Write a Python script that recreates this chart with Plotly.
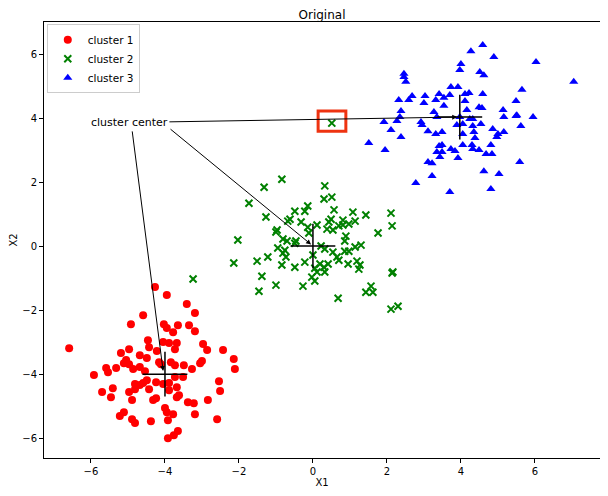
import plotly.graph_objects as go

red_x = [-4.27,-3.95,-3.41,-3.19,-4.59,-4.92,-4.03,-3.95,-3.65,-3.35,-3.78,-3.19,-6.59,-4.46,-4.43,-4.05,-3.89,-3.68,-3.73,-2.97,-2.86,-2.43,-2.14,-2.11,-5.19,-4.97,-4.68,-4.49,-4.22,-5.05,-5.11,-4.97,-4.16,-4.11,-3.84,-3.73,-3.49,-3.05,-3.0,-3.27,-5.59,-5.54,-5.32,-4.86,-4.68,-4.54,-5.92,-3.51,-3.73,-4.49,-4.24,-4.81,-4.68,-4.59,-4.05,-3.89,-3.68,-2.54,-2.51,-5.41,-5.70,-4.97,-4.81,-4.43,-3.89,-5.46,-4.89,-4.32,-4.24,-3.68,-3.62,-3.38,-3.22,-2.84,-4.0,-3.95,-3.78,-3.19,-5.11,-5.22,-4.89,-4.81,-4.38,-3.92,-2.59,-3.65,-3.76,-3.92]
red_y = [-1.28,-1.53,-1.81,-2.09,-2.16,-2.44,-2.44,-2.56,-2.47,-2.47,-2.69,-2.66,-3.19,-2.94,-3.16,-3.0,-3.03,-3.03,-3.22,-3.06,-3.25,-3.25,-3.53,-3.84,-3.34,-3.22,-3.41,-3.5,-3.28,-3.56,-3.66,-3.69,-3.63,-3.69,-3.63,-3.72,-3.72,-3.66,-3.59,-3.84,-3.81,-3.94,-3.81,-3.84,-3.78,-3.91,-4.03,-4.09,-4.09,-4.19,-4.25,-4.31,-4.34,-4.28,-4.31,-4.28,-4.41,-4.22,-4.53,-4.44,-4.56,-4.56,-4.47,-4.47,-4.5,-4.72,-4.81,-4.81,-4.75,-4.72,-4.66,-4.88,-4.91,-4.81,-5.06,-5.19,-5.25,-5.25,-5.19,-5.31,-5.41,-5.53,-5.47,-5.44,-5.41,-5.78,-5.91,-6.0]

green_x = [-0.84,-1.32,0.32,0.30,0.51,-1.73,-0.14,-0.22,-0.49,0.57,1.08,1.43,2.11,2.14,-1.27,-0.62,-0.68,-0.32,0.49,0.43,0.81,1.14,-0.14,0.11,0.38,0.54,0.70,0.81,0.97,-0.97,-1.0,-0.11,1.76,0.89,0.86,-2.03,-0.81,-0.70,-0.46,-0.49,0.22,0.32,0.54,0.86,0.97,1.14,1.3,-0.95,-0.76,-0.81,-0.73,-1.22,-1.51,-2.14,-0.22,0.0,0.65,0.70,0.95,1.19,1.27,1.24,-0.84,-0.49,0.05,0.19,0.30,0.41,0.32,0.11,-0.03,0.05,-1.38,2.16,2.14,-1.46,-1.0,-0.27,1.57,1.43,1.62,0.68,2.11,2.30,-3.24,0.51]
green_y = [2.09,1.84,1.88,1.47,1.53,1.34,1.25,1.09,1.09,1.13,1.06,0.97,1.03,0.63,0.91,0.84,0.78,0.75,0.84,0.75,0.81,0.78,0.59,0.66,0.53,0.5,0.63,0.66,0.69,0.5,0.44,0.41,0.41,0.31,0.16,0.19,0.22,0.16,0.16,0.09,0.0,-0.09,-0.19,-0.16,-0.16,-0.03,0.03,-0.06,-0.13,-0.22,-0.34,-0.34,-0.47,-0.53,-0.5,-0.28,-0.34,-0.44,-0.56,-0.47,-0.59,-0.72,-0.59,-0.66,-0.69,-0.56,-0.66,-0.56,-0.81,-0.81,-0.97,-1.09,-0.94,-0.81,-0.84,-1.41,-1.22,-1.25,-1.25,-1.44,-1.44,-1.63,-1.97,-1.88,-1.03,3.84]

blue_x = [4.59,4.27,4.89,6.03,7.05,4.0,3.97,4.51,4.62,2.46,2.46,2.51,3.73,3.92,5.65,4.11,4.22,4.59,3.41,3.54,3.70,3.03,2.68,2.59,2.32,3.0,3.32,4.11,5.49,3.54,4.49,4.57,5.14,3.27,2.38,4.16,5.49,5.51,5.95,5.16,3.35,2.35,2.27,1.92,2.92,2.95,3.97,4.24,4.32,4.05,3.89,4.32,4.54,2.11,3.11,4.35,4.86,5.16,5.62,4.05,3.32,3.49,5.0,4.97,2.38,4.38,1.51,3.49,3.41,4.05,4.30,4.81,1.95,3.73,3.84,3.35,3.49,4.32,4.49,4.68,4.84,3.43,3.92,3.11,3.22,5.59,4.62,5.03,3.22,2.78,3.70,4.81]
blue_y = [6.28,6.09,5.91,5.75,5.13,5.69,5.5,5.44,5.34,5.38,5.28,5.13,4.97,4.97,4.88,4.75,4.78,4.75,4.75,4.63,4.72,4.69,4.69,4.56,4.56,4.47,4.56,4.53,4.53,4.38,4.34,4.31,4.25,4.19,4.22,4.25,4.06,4.09,4.03,4.03,4.03,4.03,3.91,3.88,3.88,3.78,4.03,3.97,3.97,3.81,3.78,3.75,3.81,3.63,3.59,3.56,3.66,3.56,3.75,3.5,3.5,3.56,3.5,3.41,3.41,3.38,3.22,3.16,3.13,3.16,3.16,3.16,3.0,3.03,2.97,2.94,2.94,3.03,3.0,2.88,2.88,2.78,2.75,2.63,2.59,2.63,2.34,2.25,2.19,1.97,1.69,1.78]

center_x = [-4.0, 0.0, 3.97]
center_y = [-4.0, 0.0, 4.03]
label_text = "cluster center"
label_x, label_y = -4.95, 3.85
arrow_tail_x = [-4.89, -3.89, -3.92]
arrow_tail_y = [3.63, 3.69, 3.88]
arrow_head_x = [-4.05, -0.05, 3.9]
arrow_head_y = [-3.9, 0.05, 4.03]
box_x = [0.14, 0.89]
box_y = [3.59, 4.22]

fig = go.Figure()
fig.add_trace(go.Scatter(x=red_x, y=red_y, mode="markers", name="cluster 1",
                         marker=dict(color="red", size=8, symbol="circle")))
fig.add_trace(go.Scatter(x=green_x, y=green_y, mode="markers", name="cluster 2",
                         marker=dict(color="green", size=7, symbol="x-thin",
                                     line=dict(color="green", width=2))))
fig.add_trace(go.Scatter(x=blue_x, y=blue_y, mode="markers", name="cluster 3",
                         marker=dict(color="blue", size=8, symbol="triangle-up")))
fig.add_trace(go.Scatter(x=center_x, y=center_y, mode="markers", showlegend=False,
                         marker=dict(color="black", size=32, symbol="cross-thin",
                                     line=dict(color="black", width=1.5))))

fig.add_annotation(x=label_x, y=label_y, text=label_text, showarrow=False,
                   font=dict(size=11, color="black"))
for tx, ty, hx, hy in zip(arrow_tail_x, arrow_tail_y, arrow_head_x, arrow_head_y):
    fig.add_annotation(x=hx, y=hy, ax=tx, ay=ty, axref="x", ayref="y", text="",
                       showarrow=True, arrowhead=2, arrowsize=1, arrowwidth=1,
                       arrowcolor="black")

fig.add_shape(type="rect", x0=box_x[0], x1=box_x[1], y0=box_y[0], y1=box_y[1],
              line=dict(color="#ee3311", width=3))

axis = dict(showgrid=False, zeroline=False, showline=True, linecolor="black",
            mirror=True, ticks="outside", ticklen=4, tickcolor="black",
            tickfont=dict(size=10, color="black"), dtick=2, automargin=False)
fig.update_layout(
    width=600, height=488, plot_bgcolor="white", paper_bgcolor="white",
    margin=dict(l=36, r=8, t=14, b=38, autoexpand=False),
    font=dict(family="DejaVu Sans", color="black"),
    title=dict(text="Original", x=0.5, xanchor="center", xref="paper",
               yref="paper", y=1, yanchor="bottom", pad=dict(b=3),
               font=dict(size=12)),
    xaxis=dict(axis, range=[-7.27, 7.76], title=dict(text="X1", font=dict(size=10), standoff=2)),
    yaxis=dict(axis, range=[-6.62, 7.0], title=dict(text="X2", font=dict(size=10), standoff=2)),
    legend=dict(x=0.005, y=0.995, xanchor="left", yanchor="top", bgcolor="white",
                bordercolor="#cccccc", borderwidth=1, font=dict(size=10.5),
                itemwidth=30, tracegroupgap=0),
)
fig.write_html("out.html")
